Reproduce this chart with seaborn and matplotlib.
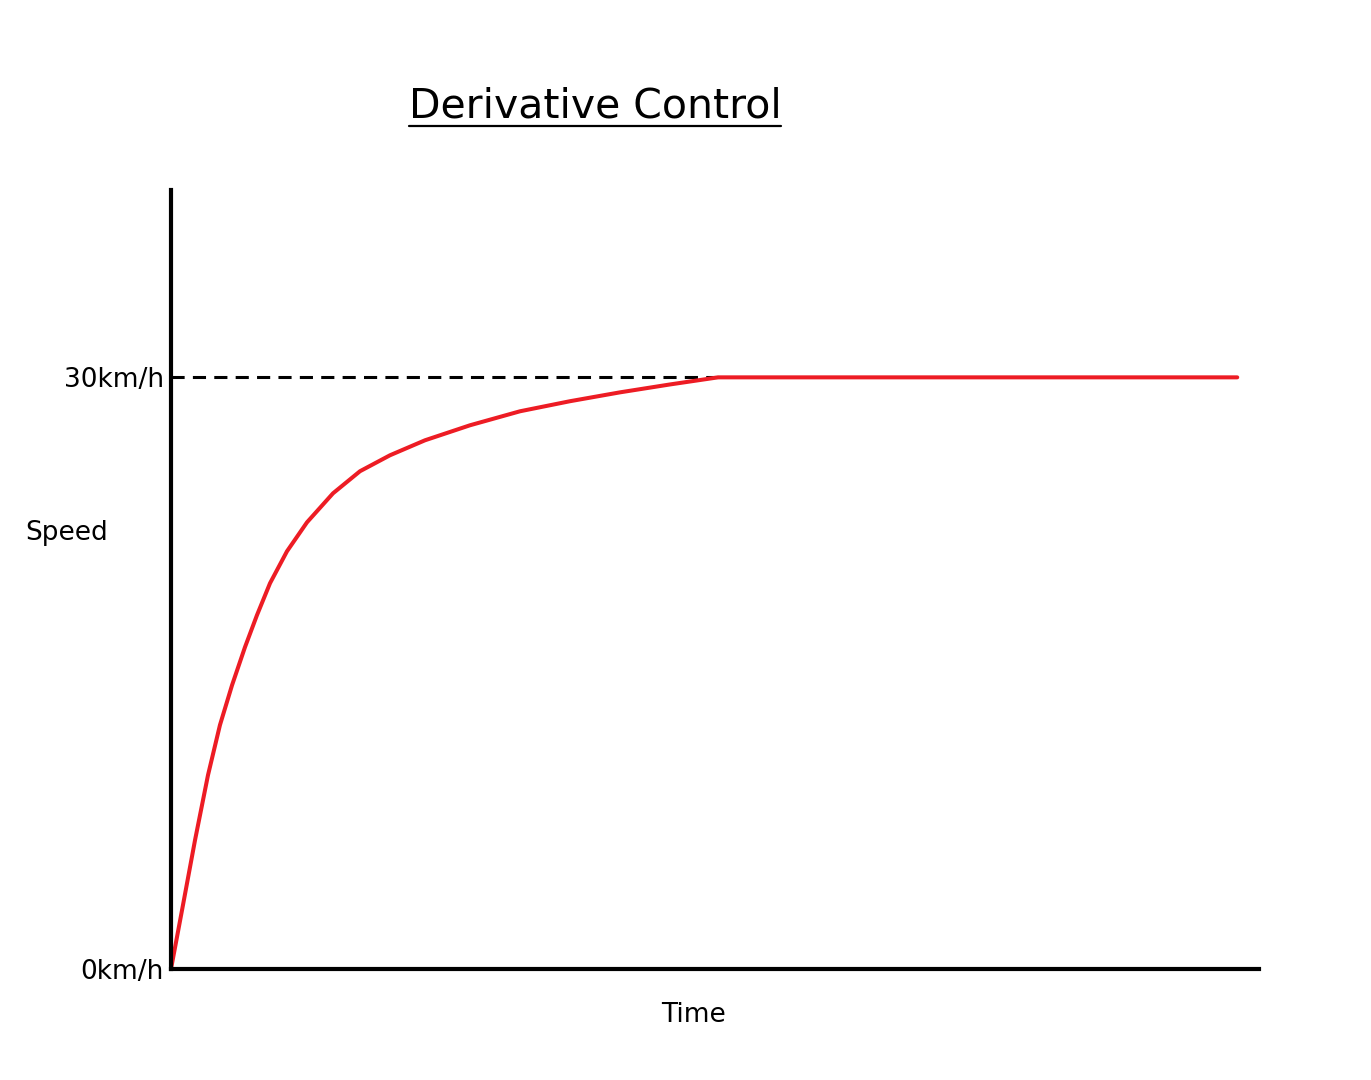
import matplotlib
matplotlib.use("Agg")
import matplotlib.pyplot as plt
import seaborn as sns
import pandas as pd
from matplotlib.lines import Line2D

# dati (tempo arbitrario 0-100, velocita in km/h)
time_s = [0, 1.10, 2.21, 3.40, 4.50, 5.61, 6.80, 7.90, 9.10, 10.66, 12.50,
          14.89, 17.37, 20.13, 23.35, 27.48, 32.08, 36.67, 41.27, 45.86,
          50.28, 98.0]
speed_kmh = [0, 3.24, 6.54, 9.83, 12.37, 14.39, 16.32, 17.94, 19.56, 21.18,
             22.65, 24.12, 25.24, 26.05, 26.81, 27.57, 28.28, 28.79, 29.24,
             29.64, 30.0, 30.0]
setpoint = 30
setpoint_time = [0, 50.7]
ytick_vals = [0, 30]
ytick_labels = ["0km/h", "30km/h"]

df = pd.DataFrame({"time": time_s, "speed": speed_kmh})
df_set = pd.DataFrame({"time": setpoint_time, "speed": [setpoint, setpoint]})

sns.set_style("white")
plt.rcParams['font.family'] = ['DejaVu Sans']
plt.rcParams['text.color'] = 'black'
plt.rcParams['axes.labelcolor'] = 'black'
plt.rcParams['ytick.color'] = 'black'

fig = plt.figure(figsize=(13.71, 10.8), dpi=100)
ax = fig.add_axes([171 / 1371, 1 - 969 / 1080, 1088 / 1371, 779 / 1080])

# linea tratteggiata del setpoint
sns.lineplot(data=df_set, x="time", y="speed", ax=ax, color="black",
             linewidth=2.2, linestyle=(0, (4.3, 2.7)), estimator=None)
# curva della velocita
sns.lineplot(data=df, x="time", y="speed", ax=ax, color="#ED1C24",
             linewidth=2.9, estimator=None, sort=False,
             solid_joinstyle="round", solid_capstyle="round")

ax.set_xlim(0, 100)
ax.set_ylim(0, 39.5)
for s in ["top", "right"]:
    ax.spines[s].set_visible(False)
for s in ["left", "bottom"]:
    ax.spines[s].set_color("black")
    ax.spines[s].set_linewidth(3)
    ax.spines[s].set_zorder(5)

ax.set_xticks([])
ax.set_yticks(ytick_vals)
ax.set_yticklabels(ytick_labels, fontsize=19, color="black")
ax.tick_params(axis="y", length=0, pad=5)

ax.set_ylabel("Speed", rotation=0, fontsize=19, ha="center", va="center",
              color="black")
ax.yaxis.set_label_coords(-0.0956, 0.5597)
ax.set_xlabel("Time", fontsize=19, ha="center", va="center", color="black")
ax.xaxis.set_label_coords(0.4798, -0.059)

# titolo sottolineato
title = fig.text(595 / 1371, 1 - 107 / 1080, "Derivative Control", fontsize=29.5,
                 ha="center", va="center", color="black")
fig.canvas.draw()
bb = title.get_window_extent().transformed(fig.transFigure.inverted())
fig.add_artist(Line2D([bb.x0, bb.x1], [1 - 126 / 1080, 1 - 126 / 1080],
                      color="black", linewidth=1.6, transform=fig.transFigure))

fig.savefig("out.png", dpi=100)
plt.close(fig)
